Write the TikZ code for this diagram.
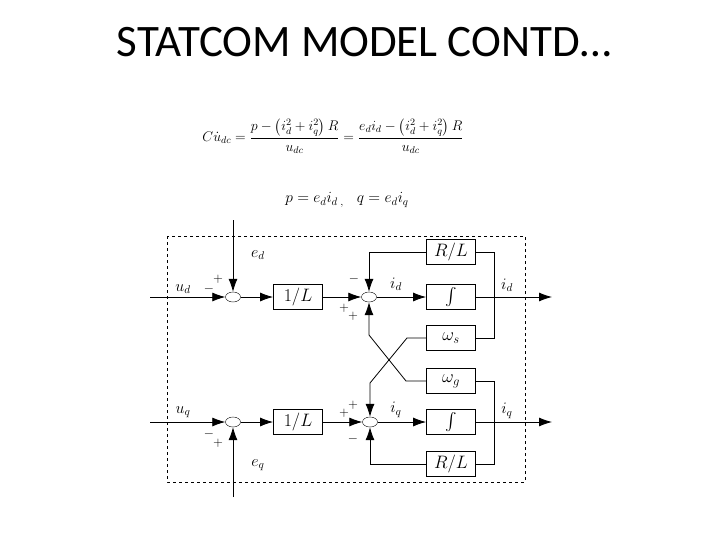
\RequirePackage{fix-cm}
\documentclass[tikz,border=0pt]{standalone}
\usepackage{amsmath}
\usepackage{fontspec}
\setmainfont{Liberation Serif}
\newfontfamily\titlefont{Carlito}
\usetikzlibrary{arrows.meta,shapes.geometric}
\begin{document}
\begin{tikzpicture}[x=1pt,y=-1pt,
  blk/.style={draw,thick,minimum width=49pt,minimum height=25pt,inner sep=0pt,font=\fontsize{18}{20}\selectfont},
  sumj/.style={draw,ellipse,minimum width=15pt,minimum height=10pt,inner sep=0pt},
  arr/.style={thick,-{Latex[length=13pt,width=9pt]}},
  ln/.style={thick},
  lab/.style={font=\fontsize{16}{18}\selectfont},
  sgn/.style={font=\fontsize{13}{15}\selectfont}]
\useasboundingbox (0,0) rectangle (728,546);
\node[font=\titlefont\fontsize{45}{50}\selectfont] (title) at (364,42) {STATCOM MODEL CONTD…};
\node[font=\fontsize{14}{16}\selectfont] (eq1) at (333,136) {$C\dot u_{dc}=\dfrac{p-\left(i_d^2+i_q^2\right)R}{u_{dc}}=\dfrac{e_d i_d-\left(i_d^2+i_q^2\right)R}{u_{dc}}$};
\node[font=\fontsize{15.5}{17}\selectfont] (eq2) at (347,200) {$p=e_d i_d\,{}_{,}\;\;\; q=e_d i_q$};
\draw[thick,dashed] (167,236) rectangle (525,482);
% top row
\node[sumj] (s1) at (233,297) {};
\node[blk] (l1) at (298,297) {$1/L$};
\node[sumj] (s2) at (369,297) {};
\node[blk] (rl1) at (451,252) {$R/L$};
\node[blk] (int1) at (451,297) {$\int$};
\node[blk] (w1) at (451,338) {$\omega_s$};
\coordinate (in1) at (150,297);
\coordinate (ed) at (233,220);
\coordinate (out1) at (552,297);
\draw[arr] (in1) -- (s1);
\draw[arr] (ed) -- (s1);
\draw[arr] (s1) -- (l1);
\draw[arr] (l1) -- (s2);
\draw[arr] (s2) -- (int1);
\draw[arr] (int1.east) -- (out1);
\draw[arr] (rl1.west) -| (s2.north);
\draw[ln] (rl1.east) -| (494,338) -- (w1.east);
\node[lab] (lud) at (183,289) {$u_d$};
\node[lab] (led) at (258,255) {$e_d$};
\node[lab] (lid) at (396,284) {$i_d$};
\node[lab] (lod) at (507,285) {$i_d$};
\node[sgn] (p1) at (218,279) {$+$};
\node[sgn] (m1) at (209,289) {$-$};
\node[sgn] (m2) at (354,279) {$-$};
\node[sgn] (p2) at (344,308) {$+$};
\node[sgn] (p3) at (353,316) {$+$};
% bottom row
\node[sumj] (s3) at (233,422) {};
\node[blk] (l2) at (298,422) {$1/L$};
\node[sumj] (s4) at (370,422) {};
\node[blk] (w2) at (451,381) {$\omega_g$};
\node[blk] (int2) at (451,422) {$\int$};
\node[blk] (rl2) at (451,464) {$R/L$};
\coordinate (in2) at (150,422);
\coordinate (eq) at (233,497);
\coordinate (out2) at (552,422);
\draw[arr] (in2) -- (s3);
\draw[arr] (eq) -- (s3);
\draw[arr] (s3) -- (l2);
\draw[arr] (l2) -- (s4);
\draw[arr] (s4) -- (int2);
\draw[arr] (int2.east) -- (out2);
\draw[arr] (rl2.west) -| (s4.south);
\draw[ln] (rl2.east) -| (494,381) -- (w2.east);
\node[lab] (luq) at (183,412) {$u_q$};
\node[lab] (leq) at (258,465) {$e_q$};
\node[lab] (liq) at (396,410) {$i_q$};
\node[lab] (loq) at (507,411) {$i_q$};
\node[sgn] (m3) at (209,434) {$-$};
\node[sgn] (p4) at (218,443) {$+$};
\node[sgn] (p5) at (344,413) {$+$};
\node[sgn] (p6) at (353,405) {$+$};
\node[sgn] (m4) at (353,439) {$-$};
% cross coupling
\draw[arr] (w2.west) -- (406,381) -- (369,335) -- (s2.south);
\draw[arr] (w1.west) -- (407,338) -- (370,383) -- (s4.north);
\end{tikzpicture}
\end{document}
